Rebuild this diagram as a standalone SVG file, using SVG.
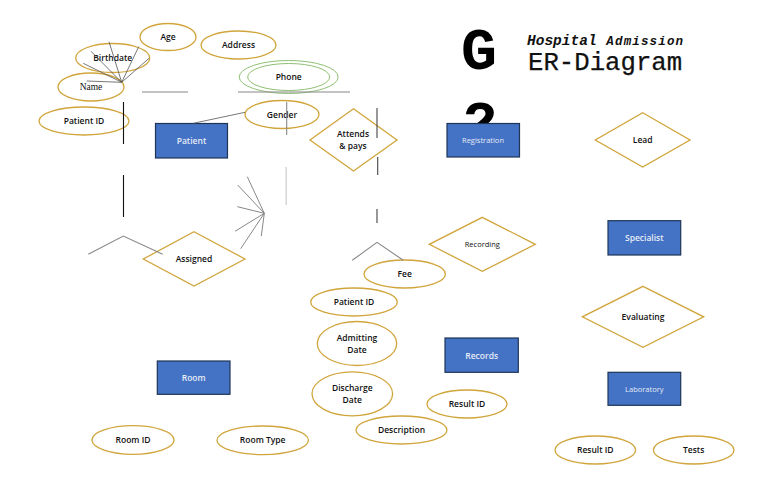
<svg xmlns="http://www.w3.org/2000/svg" width="768" height="503" viewBox="0 0 768 503">
<style>
.a{fill:#fff;stroke:#d0a53b;stroke-width:1.3}
.e{fill:#4472c4;stroke:#1f3557;stroke-width:1.2}
.d{fill:#fff;stroke:#d0a53b;stroke-width:1.3}
.p{fill:none;stroke:#8fc073;stroke-width:1}
text{font-family:"Open Sans","Liberation Sans",sans-serif;font-size:8.5px;font-weight:600;fill:#111;text-anchor:middle}
.w{fill:#e6ecf8}
.k{stroke:#111;stroke-width:1.1;fill:none}
.g{stroke:#888;stroke-width:1.1;fill:none}
.l{stroke:#ccc;stroke-width:1.2;fill:none}
.f{stroke:#555;stroke-width:.8;fill:none}
.f2{stroke:#888;stroke-width:1;fill:none}
.big{font-family:"Liberation Mono",monospace;font-weight:700;font-size:60px;fill:#000}
.t{font-family:"Liberation Mono",monospace;fill:#111;text-anchor:start}
</style>
<g id="title">
<text class="big" x="479" y="69">G</text>
<text class="big" x="480" y="142">2</text>
<text class="t" x="527" y="45" style="font-size:14.5px;font-weight:700;font-style:italic">Hospital <tspan style="font-size:12.500px;letter-spacing:1.150px" dx="1">Admission</tspan></text>
<text class="t" x="528" y="70" style="font-size:25.700px;font-weight:400;stroke:#111;stroke-width:.25">ER-Diagram</text>
</g>
<g id="n-age"><ellipse class="a" cx="168" cy="37" rx="28" ry="13.500"/><text x="168" y="40">Age</text></g>
<g id="n-address"><ellipse class="a" cx="238.500" cy="45" rx="37.500" ry="14"/><text x="238.500" y="48">Address</text></g>
<g id="n-birthdate"><ellipse class="a" cx="112.700" cy="58" rx="37" ry="14.500"/><text x="112.700" y="61">Birthdate</text></g>
<g id="n-name"><ellipse class="a" cx="91" cy="87" rx="33" ry="14"/><text x="91" y="90" style="font-family:'Liberation Serif',serif;font-size:9.500px;font-weight:400">Name</text></g>
<g id="n-patient-id"><ellipse class="a" cx="84" cy="121" rx="45" ry="14"/><text x="84" y="124">Patient ID</text></g>
<g id="n-phone"><ellipse class="p" cx="288.700" cy="77" rx="49.500" ry="16.500"/><ellipse class="p" cx="288.700" cy="77" rx="41" ry="13.500"/><text x="288.700" y="80">Phone</text></g>
<g id="n-gender"><ellipse class="a" cx="282" cy="114.500" rx="37" ry="14"/><text x="282" y="117.500">Gender</text></g>
<g id="n-patient"><rect class="e" x="155.500" y="123.500" width="72" height="34.500"/><text class="w" x="191.500" y="144">Patient</text></g>
<g id="n-attends"><polygon class="d" points="353.500,108.700 397,140 353.500,171 310,140"/><text x="353" y="137">Attends</text><text x="353" y="149">&amp; pays</text></g>
<g id="n-registration"><rect class="e" x="447" y="123.500" width="72.500" height="33.500"/><text class="w" x="483" y="143" style="font-size:7.500px;font-weight:400">Registration</text></g>
<g id="n-lead"><polygon class="d" points="642.700,112.700 690,140 642.700,167 595.300,140"/><text x="642.700" y="143">Lead</text></g>
<g id="n-specialist"><rect class="e" x="608" y="220.700" width="72.700" height="34.300"/><text class="w" x="644.300" y="241">Specialist</text></g>
<g id="n-assigned"><polygon class="d" points="194,231.700 245,259 194,286 143.300,259"/><text x="194" y="262">Assigned</text></g>
<g id="n-recording"><polygon class="d" points="482.300,217.300 535.300,244.300 482.300,271.300 429.300,244.300"/><text x="482.300" y="247" style="font-size:7.500px;font-weight:400">Recording</text></g>
<g id="n-fee"><ellipse class="a" cx="404.700" cy="274" rx="40.700" ry="14"/><text x="404.700" y="277">Fee</text></g>
<g id="n-patient-id-2"><ellipse class="a" cx="354" cy="302" rx="43.300" ry="14"/><text x="354" y="305">Patient ID</text></g>
<g id="n-evaluating"><polygon class="d" points="643,286.300 703.700,316.800 643,347.300 582.300,316.800"/><text x="643" y="319.800">Evaluating</text></g>
<g id="n-admitting"><ellipse class="a" cx="357" cy="343.500" rx="39.700" ry="22"/><text x="357" y="341">Admitting</text><text x="357" y="353">Date</text></g>
<g id="n-records"><rect class="e" x="445" y="338" width="73.300" height="34.300"/><text class="w" x="481.700" y="358.500">Records</text></g>
<g id="n-room"><rect class="e" x="157.300" y="361" width="72.700" height="33.300"/><text class="w" x="193.700" y="381">Room</text></g>
<g id="n-laboratory"><rect class="e" x="608" y="372.300" width="72.700" height="33"/><text class="w" x="644.300" y="392" style="font-size:7.500px;font-weight:400">Laboratory</text></g>
<g id="n-discharge"><ellipse class="a" cx="352.300" cy="393.800" rx="40.300" ry="22"/><text x="352.300" y="391">Discharge</text><text x="352.300" y="403">Date</text></g>
<g id="n-result-id"><ellipse class="a" cx="467" cy="404" rx="40" ry="14"/><text x="467" y="407">Result ID</text></g>
<g id="n-description"><ellipse class="a" cx="401.500" cy="430" rx="45.500" ry="14"/><text x="401.500" y="433">Description</text></g>
<g id="n-room-id"><ellipse class="a" cx="133" cy="440" rx="41" ry="14.300"/><text x="133" y="443">Room ID</text></g>
<g id="n-room-type"><ellipse class="a" cx="262.700" cy="440.300" rx="45.700" ry="14.300"/><text x="262.700" y="443.300">Room Type</text></g>
<g id="n-result-id-2"><ellipse class="a" cx="595.300" cy="450" rx="40.300" ry="14"/><text x="595.300" y="453">Result ID</text></g>
<g id="n-tests"><ellipse class="a" cx="693.700" cy="450" rx="40.300" ry="14"/><text x="693.700" y="453">Tests</text></g>
<g id="connectors">
<path class="f" d="M121.700 82.300L109 41.700M121.700 82.300L91 51.300M121.700 82.300L83.300 63.300M121.700 82.300L86.700 81M121.700 82.300L138.700 46.700M121.700 82.300L149 58.300"/>
<path class="k" d="M123.500 102V144M123.500 175V217"/>
<path class="g" d="M142 92H188M238 92H350"/>
<path class="f" d="M193.300 123.300L245 112.300"/>
<path class="g" d="M286.700 102V135"/>
<path class="l" d="M286.200 167V205"/>
<path class="f2" d="M264.300 213.300L247.300 176.700M264.300 213.300L237.700 185M264.300 213.300L237.300 206.700M264.300 213.300L235 231.300M264.300 213.300L261.300 236M264.300 213.300L240.700 248.700"/>
<path class="g" d="M88.300 254.300L123.300 236L162.700 254.300M352.300 260.300L377 242.300L403.300 260.300"/>
<path class="k" style="stroke:#444" d="M377 108V138M377.700 157V175M377 209V223"/>
</g>
</svg>
